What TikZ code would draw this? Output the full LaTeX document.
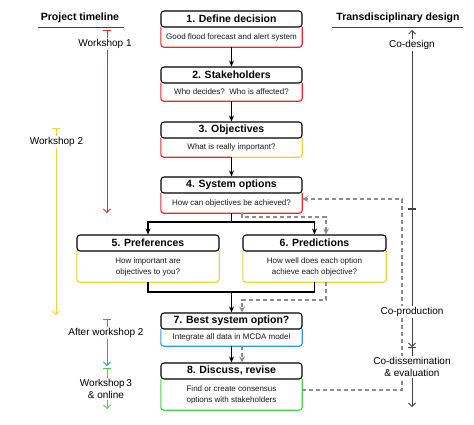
\documentclass[tikz,border=0pt]{standalone}
\usepackage{fontspec}
\setmainfont{Liberation Sans}
\usetikzlibrary{arrows.meta,calc}
\definecolor{cred}{HTML}{E8262B}
\definecolor{cyel}{HTML}{EDD43A}
\definecolor{cblue}{HTML}{2E9BD6}
\definecolor{cgreen}{HTML}{44D444}
\definecolor{cgrey}{HTML}{8C8C8C}
\begin{document}
\begin{tikzpicture}[x=1pt,y=-1pt,
  ttl/.style={draw=black, fill=white, rounded corners=3pt, line width=1.1pt,
    minimum width=141pt, minimum height=16pt, inner sep=0pt,
    font=\fontsize{10.5}{12}\selectfont\bfseries},
  sub/.style={fill=white, minimum width=141pt, inner sep=0pt, align=center,
    font=\fontsize{8}{11}\selectfont, text=black!90},
  subb/.style={line width=1.1pt, rounded corners=3pt},
  flow/.style={line width=1.1pt, -{Stealth[length=6pt,width=5pt]}},
  fb/.style={cgrey, line width=1.1pt, dash pattern=on 4pt off 3pt, -{Stealth[length=6pt,width=6pt,inset=2pt]}},
  tl/.style={line width=0.8pt, {Bar[width=8pt]}-{Straight Barb[length=3.5pt,width=7pt]}},
  lbl/.style={fill=white, inner sep=1pt, align=center, font=\fontsize{10}{12}\selectfont},
  hdr/.style={inner sep=0pt, font=\fontsize{10.5}{12}\selectfont\bfseries},
  hline/.style={line width=0.8pt, black!75}
]
\useasboundingbox (0,0) rectangle (474,424);

% headers
\node[hdr] (h1) at (80,18) {Project timeline};
\node[hdr] (h2) at (398,18) {Transdisciplinary design};
\coordinate (u1a) at (38,27); \coordinate (u1b) at (124,27);
\coordinate (u2a) at (332,27); \coordinate (u2b) at (463,27);
\draw[hline] (u1a) -- (u1b);
\draw[hline] (u2a) -- (u2b);

% subtitle boxes
\node[sub, minimum height=20pt] (s1) at (231.5,37) {Good flood forecast and alert system};
\node[sub, minimum height=18pt] (s2) at (231.5,92) {Who decides?\ \ Who is affected?};
\node[sub, minimum height=19pt] (s3) at (231.5,147.5) {What is really important?};
\node[sub, minimum height=20pt] (s4) at (231.5,203) {How can objectives be achieved?};
\node[sub, minimum height=31pt, minimum width=142pt] (s5) at (148,266.5) {How important are\\objectives to you?};
\node[sub, minimum height=31pt, minimum width=143pt] (s6) at (314.5,266.5) {How well does each option\\achieve each objective?};
\node[sub, minimum height=17pt] (s7) at (231.5,337.5) {Integrate all data in MCDA model};
\node[sub, minimum height=31pt] (s8) at (231.5,394.5) {Find or create consensus\\options with stakeholders};

\foreach \s/\c in {s1/cred,s2/cred,s4/cred,s5/cyel,s6/cyel,s7/cblue,s8/cgreen}{
  \draw[subb, \c] (\s.north west) -- (\s.south west) -- (\s.south east) -- (\s.north east);
}
\draw[subb, cred] (s3.north west) -- (s3.south west) -- (s3.south);
\draw[subb, cyel] (s3.south) -- (s3.south east) -- (s3.north east);

% title boxes
\node[ttl] (t1) at (231.5,19) {1.\hspace{0.35em}Define decision};
\node[ttl] (t2) at (231.5,75) {2.\hspace{0.35em}Stakeholders};
\node[ttl] (t3) at (231.5,130) {3.\hspace{0.35em}Objectives};
\node[ttl] (t4) at (231.5,185) {4.\hspace{0.35em}System options};
\node[ttl, minimum width=142pt] (t5) at (148,243) {5.\hspace{0.35em}Preferences};
\node[ttl, minimum width=143pt] (t6) at (314.5,243) {6.\hspace{0.35em}Predictions};
\node[ttl] (t7) at (231.5,321) {7.\hspace{0.35em}Best system option?};
\node[ttl] (t8) at (231.5,371) {8.\hspace{0.35em}Discuss, revise};

% main flow
\draw[flow] (s1.south) -- (t2.north);
\draw[flow] (s2.south) -- (t3.north);
\draw[flow] (s3.south) -- (t4.north);
\coordinate (j4) at (231.5,222);
\draw[line width=1.1pt] (s4.south) -- (j4);
\draw[flow] (j4) -| (t5.north);
\draw[flow] (j4) -| (t6.north);
\coordinate (j56) at (231.5,292);
\draw[line width=1.1pt] (s5.south) |- (j56);
\draw[line width=1.1pt] (s6.south) |- (j56);
\draw[flow] (j56) -- (t7.north);
\draw[flow] (s7.south) -- (t8.north);

% grey dashed flow
\coordinate (g1) at (242,217); \coordinate (g2) at (326,217);
\coordinate (g3) at (326,300); \coordinate (g4) at (242,300);
\coordinate (g5) at (402,199); \coordinate (g6) at (402,390);
\draw[fb] (s4.south -| g1) -- (g1) -- (g2) -- (t6.north -| g2);
\draw[fb] (s6.south -| g3) -- (g3) -- (g4) -- (t7.north -| g4);
\draw[fb] (s7.south -| g4) -- (t8.north -| g4);
\draw[fb] (s8.east |- g6) -- (g6) -- (g5) -- (s4.east |- g5);

% left timeline
\coordinate (a1) at (107,30); \coordinate (a2) at (107,213);
\coordinate (b1) at (56,128); \coordinate (b2) at (56,315);
\coordinate (c1) at (107,319); \coordinate (c2) at (107,366);
\coordinate (d1) at (107,368); \coordinate (d2) at (107,409);
\draw[tl, cred] (a1) -- (a2);
\draw[tl, cyel] (b1) -- (b2);
\draw[tl, cblue] (c1) -- (c2);
\draw[tl, cgreen] (d1) -- (d2);
\node[lbl] (w1) at (105,44) {Workshop 1};
\node[lbl] (w2) at (56.5,142) {Workshop 2};
\node[lbl] (w3) at (106,333) {After workshop 2};
\node[lbl] (w4) at (106,389) {Workshop\,3\\\&\ online};

% right timeline
\coordinate (r0) at (412,30); \coordinate (r1) at (412,209);
\coordinate (r2) at (412,347); \coordinate (r3) at (412,407);
\draw[tl, black!75] (r1) -- (r0);
\draw[tl, black!75] (r1) -- (r2);
\draw[tl, black!75] (r2) -- (r3);
\node[lbl] (cd) at (412,45) {Co-design};
\node[lbl] (cp) at (412,312) {Co-production};
\node[lbl] (ce) at (412,367) {Co-dissemination\\\&\ evaluation};
\end{tikzpicture}
\end{document}
